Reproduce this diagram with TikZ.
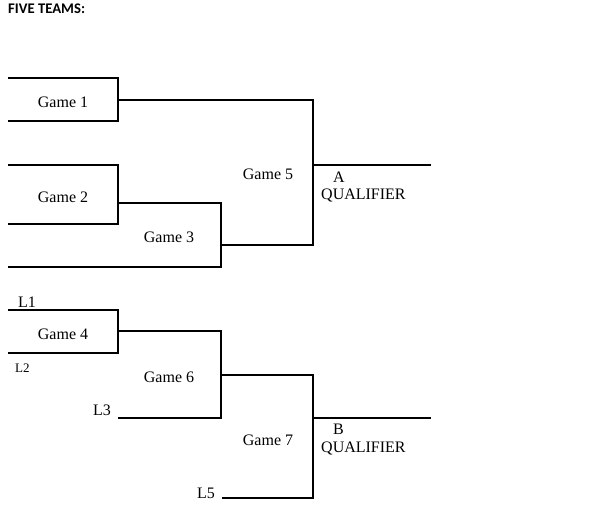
\documentclass[tikz,border=0pt]{standalone}
\usepackage{fontspec}
\setmainfont{Liberation Serif}
\newfontfamily\headfont{Carlito}
\begin{document}
\begin{tikzpicture}[x=1pt,y=-1pt,
  bracket/.style={draw=black,line width=1.1pt},
  lbl/.style={inner sep=0pt,anchor=base,font=\fontsize{16}{18}\selectfont},
  lblw/.style={inner sep=0pt,anchor=base west,font=\fontsize{16}{18}\selectfont},
  small/.style={inner sep=0pt,anchor=base west,font=\fontsize{13}{15}\selectfont}]
\useasboundingbox[fill=white] (0,0) rectangle (593,514);
% heading
\node[inner sep=0pt,anchor=base west,font=\headfont\bfseries\fontsize{14.7}{16}\selectfont] (title) at (8,13) {FIVE TEAMS:};
% coordinates
\coordinate (g1tl) at (8,78);   \coordinate (g1tr) at (118,78);
\coordinate (g1bl) at (8,121);  \coordinate (g1br) at (118,121);
\coordinate (g1o) at (118,100); \coordinate (g5t) at (313,100);
\coordinate (g2tl) at (8,165);  \coordinate (g2tr) at (118,165);
\coordinate (g2bl) at (8,224);  \coordinate (g2br) at (118,224);
\coordinate (g2o) at (118,203); \coordinate (g3t) at (221,203);
\coordinate (g3bl) at (8,267);  \coordinate (g3br) at (221,267);
\coordinate (g3o) at (221,245); \coordinate (g5b) at (313,245);
\coordinate (g5o) at (313,165); \coordinate (qa) at (431,165);
\coordinate (g4tl) at (8,310);  \coordinate (g4tr) at (118,310);
\coordinate (g4bl) at (8,353);  \coordinate (g4br) at (118,353);
\coordinate (g4o) at (118,331); \coordinate (g6t) at (221,331);
\coordinate (l3s) at (118,418); \coordinate (g6b) at (221,418);
\coordinate (g6o) at (221,375); \coordinate (g7t) at (313,375);
\coordinate (l5s) at (222,498); \coordinate (g7b) at (313,498);
\coordinate (g7o) at (313,418); \coordinate (qb) at (431,418);
% bracket lines
\draw[bracket] (g1tl) -- (g1tr) -- (g1br) -- (g1bl);
\draw[bracket] (g1o) -- (g5t) -- (g5b) -- (g3o);
\draw[bracket] (g2tl) -- (g2tr) -- (g2br) -- (g2bl);
\draw[bracket] (g2o) -- (g3t) -- (g3br) -- (g3bl);
\draw[bracket] (g5o) -- (qa);
\draw[bracket] (g4tl) -- (g4tr) -- (g4br) -- (g4bl);
\draw[bracket] (g4o) -- (g6t) -- (g6b) -- (l3s);
\draw[bracket] (g6o) -- (g7t) -- (g7b) -- (l5s);
\draw[bracket] (g7o) -- (qb);
% labels
\node[lbl] (t1) at (63,107) {Game 1};
\node[lbl] (t2) at (63,202) {Game 2};
\node[lbl] (t3) at (169,242) {Game 3};
\node[lbl] (t4) at (63,339) {Game 4};
\node[lbl] (t5) at (268,179) {Game 5};
\node[lbl] (t6) at (169,382) {Game 6};
\node[lbl] (t7) at (268,445) {Game 7};
\node[lblw] (a) at (333,182) {A};
\node[lblw] (qaT) at (321,199) {QUALIFIER};
\node[lblw] (b) at (333,434) {B};
\node[lblw] (qbT) at (321,452) {QUALIFIER};
\node[lblw] (l1) at (18,307) {L1};
\node[small] (l2) at (15,372) {L2};
\node[lblw] (l3) at (93,415) {L3};
\node[lblw] (l5) at (197,498) {L5};
\end{tikzpicture}
\end{document}
